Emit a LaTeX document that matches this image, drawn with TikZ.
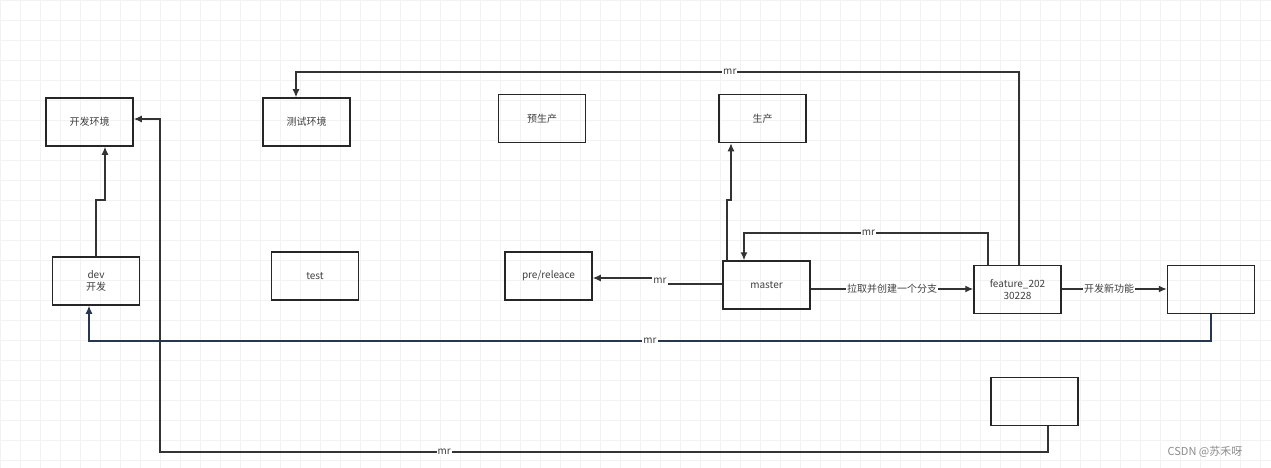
\documentclass[tikz,border=0pt]{standalone}
\usepackage{fontspec}
\setmainfont{Noto Sans CJK SC}
\usetikzlibrary{arrows.meta}
\begin{document}
\begin{tikzpicture}[x=1pt,y=-1pt,
  box/.style={draw=black!85,line width=1.5pt,minimum width=87pt,minimum height=48pt,inner sep=1pt,font=\fontsize{10}{12.5}\selectfont,align=center,text=black!75},
  con/.style={draw=black!80,line width=1.3pt,-{Latex[length=8pt,width=7pt]}},
  lab/.style={fill=white,inner sep=1pt,font=\fontsize{10}{11}\selectfont,text=black!75}]
\fill[white] (0,0) rectangle (1271,468);
\useasboundingbox (0,0) rectangle (1271,468);
\foreach \i in {0,20,...,1260} \draw[black!5,line width=0.8pt] (\i,0) -- (\i,468);
\foreach \j in {0,20,...,460} \draw[black!5,line width=0.8pt] (0,\j) -- (1271,\j);
\node[box] (kf) at (89.5,122) {开发环境};
\node[box] (cs) at (306.5,122) {测试环境};
\node[box] (ysc) at (542,118.5) {预生产};
\node[box] (sc) at (762.5,118.5) {生产};
\node[box] (dev) at (96,281) {dev\\开发};
\node[box] (test) at (315,276) {test};
\node[box] (pre) at (548.5,276) {pre/releace};
\node[box] (master) at (766.5,285) {master};
\node[box] (feat) at (1017.5,289.5) {feature\_202\\30228};
\node[box] (e1) at (1211,289.5) {};
\node[box] (e2) at (1034.5,401.5) {};
\coordinate (a1) at (96,200); \coordinate (a2) at (105,200);
\draw[con] (dev.north) -- (a1) -- (a2) -- (kf.south -| a2);
\coordinate (b1) at (1019,72); \coordinate (b2) at (296,72);
\draw[con] (feat.north -| b1) -- (b1) -- node[lab,pos=0.4]{mr} (b2) -- (cs.north -| b2);
\coordinate (c1) at (727,200); \coordinate (c2) at (731,200);
\draw[con] (master.north -| c1) -- (c1) -- (c2) -- (sc.south -| c2);
\coordinate (d1) at (988,233); \coordinate (d2) at (744,233);
\draw[con] (feat.north -| d1) -- (d1) -- node[lab,pos=0.49]{mr} (d2) -- (master.north -| d2);
\coordinate (h1) at (0,284); \coordinate (h2) at (0,278);
\draw[con] (master.west |- h1) -- (660,284) -- node[lab,pos=0.5]{mr} (660,278) -- (pre.east |- h2);
\coordinate (m1) at (0,289);
\draw[con] (master.east |- m1) -- node[lab,pos=0.5]{拉取并创建一个分支} (feat.west |- m1);
\draw[con] (feat.east |- m1) -- node[lab,pos=0.45]{开发新功能} (e1.west |- m1);
\coordinate (f1) at (1211,341); \coordinate (f2) at (89,341);
\draw[con,draw={rgb,255:red,40;green,55;blue,80}] (e1.south) -- (f1) -- node[lab,pos=0.5]{mr} (f2) -- (dev.south -| f2);
\coordinate (g1) at (1048,452); \coordinate (g2) at (160,452); \coordinate (g3) at (160,119);
\draw[con] (e2.south -| g1) -- (g1) -- node[lab,pos=0.68]{mr} (g2) -- (g3) -- (kf.east |- g3);
\node[font=\fontsize{11}{13}\selectfont,text=black!45] (wm) at (1205,452) {CSDN @苏禾呀};
\end{tikzpicture}
\end{document}
